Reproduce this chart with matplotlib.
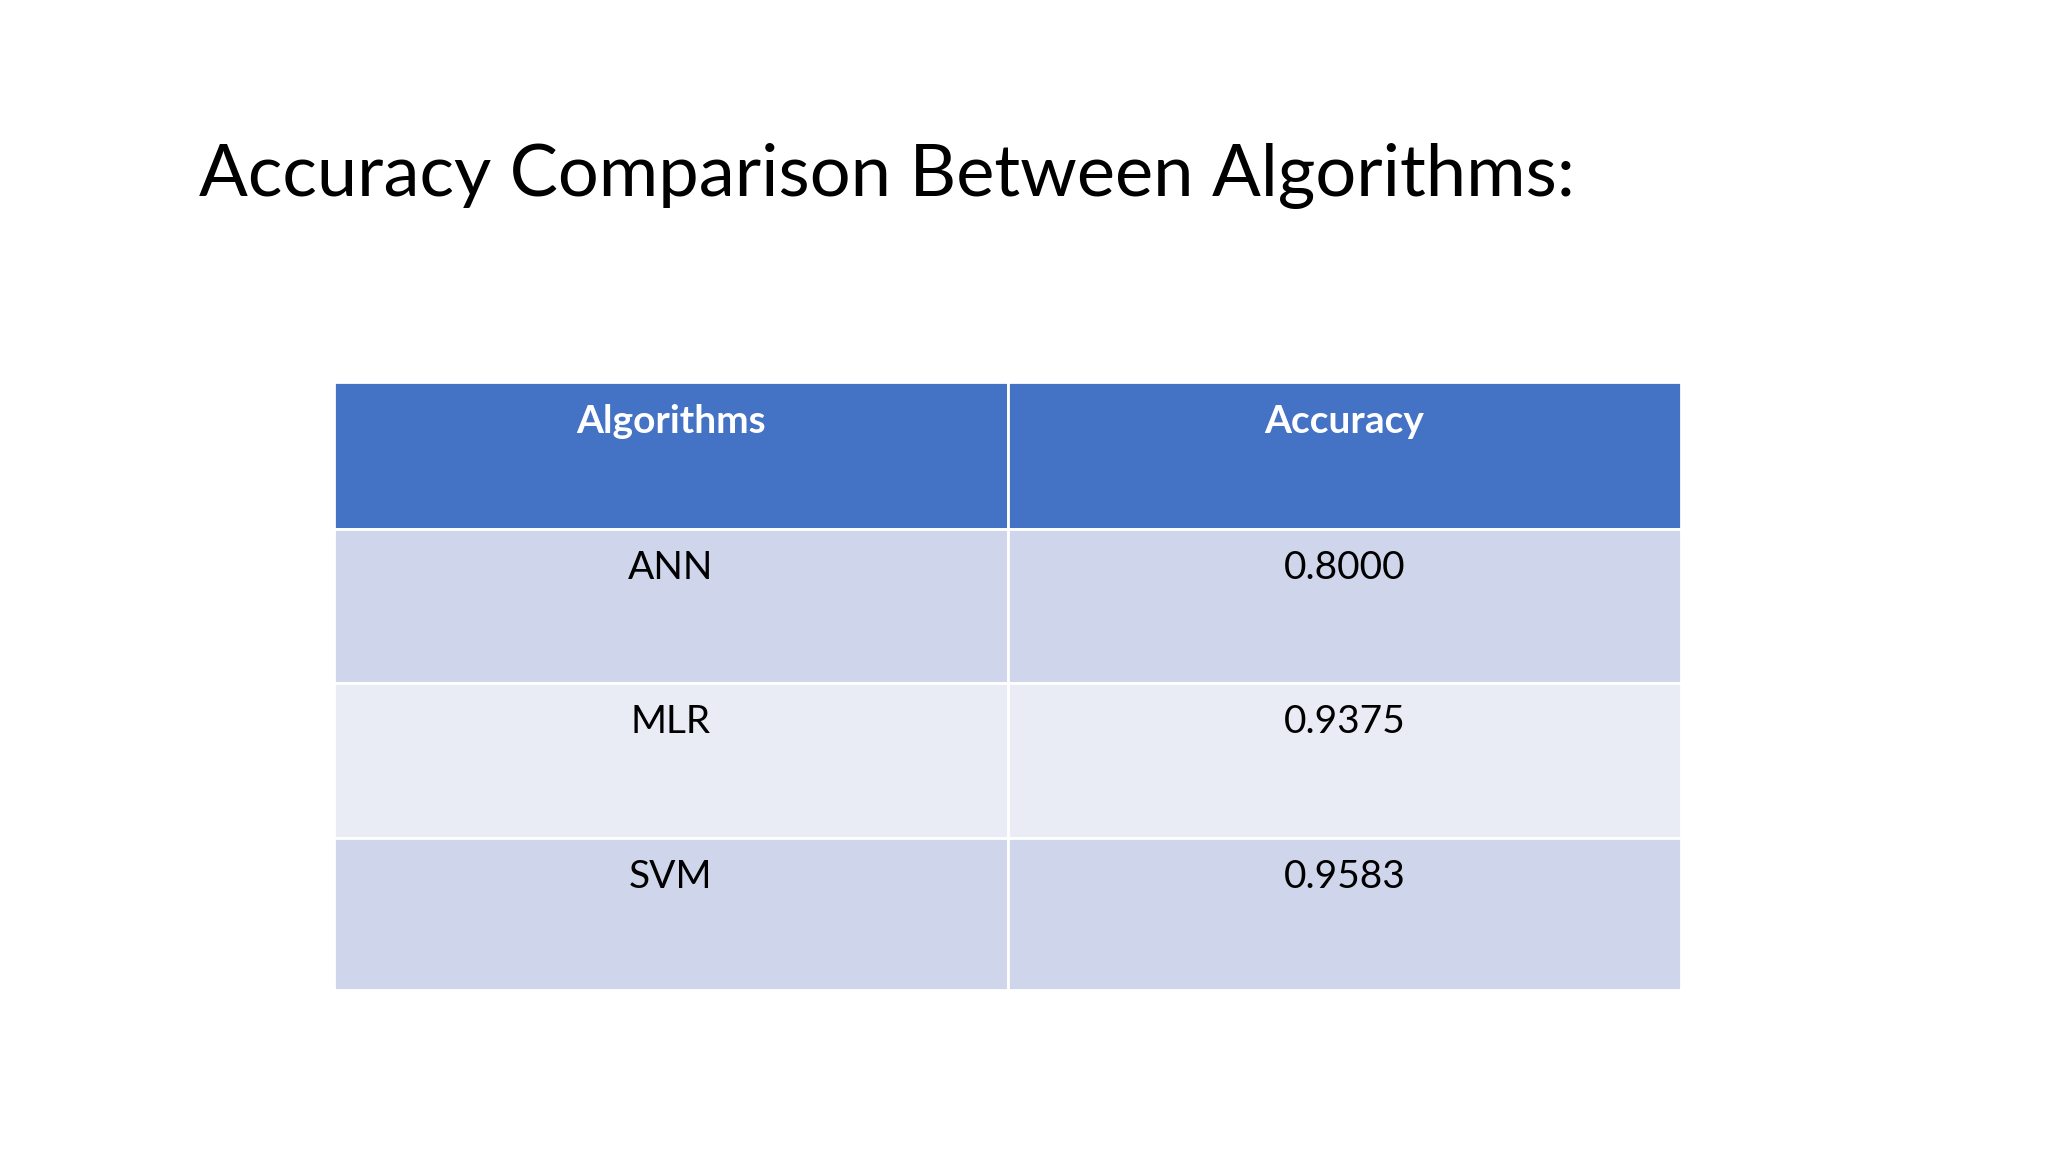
import matplotlib.pyplot as plt
from matplotlib.patches import Rectangle

plt.rcParams['font.family'] = ['Lato', 'DejaVu Sans']

title = "Accuracy Comparison Between Algorithms:"
headers = ["Algorithms", "Accuracy"]
algorithms = ["ANN", "MLR", "SVM"]
accuracy = ["0.8000", "0.9375", "0.9583"]

HEADER_BG = "#4472C4"
ROW_BG = ["#CFD5EA", "#E9EBF5", "#CFD5EA"]

fig = plt.figure(figsize=(20.48, 11.52), dpi=100)
fig.text(0.097, 1 - 0.153, title, fontsize=52, va="center", ha="left", color="black")

left, mid, right = 0.163, 0.492, 0.821
# row boundaries, measured from top of figure
edges = [0.332, 0.459, 0.593, 0.727, 0.859]
text_off = 0.034  # text sits near top of each cell


def cell(x0, x1, y_top, y_bot, bg, label, **kw):
    fig.patches.append(Rectangle((x0, 1 - y_bot), x1 - x0, y_bot - y_top,
                                 transform=fig.transFigure, facecolor=bg,
                                 edgecolor="white", linewidth=2))
    fig.text((x0 + x1) / 2, 1 - (y_top + text_off), label, ha="center",
             va="center", fontsize=28, **kw)


for (x0, x1), h in zip([(left, mid), (mid, right)], headers):
    cell(x0, x1, edges[0], edges[1], HEADER_BG, h, color="white", fontweight="bold")

for i, (alg, acc) in enumerate(zip(algorithms, accuracy)):
    cell(left, mid, edges[i + 1], edges[i + 2], ROW_BG[i], alg, color="black")
    cell(mid, right, edges[i + 1], edges[i + 2], ROW_BG[i], acc, color="black")

fig.savefig("out.png", dpi=100)
